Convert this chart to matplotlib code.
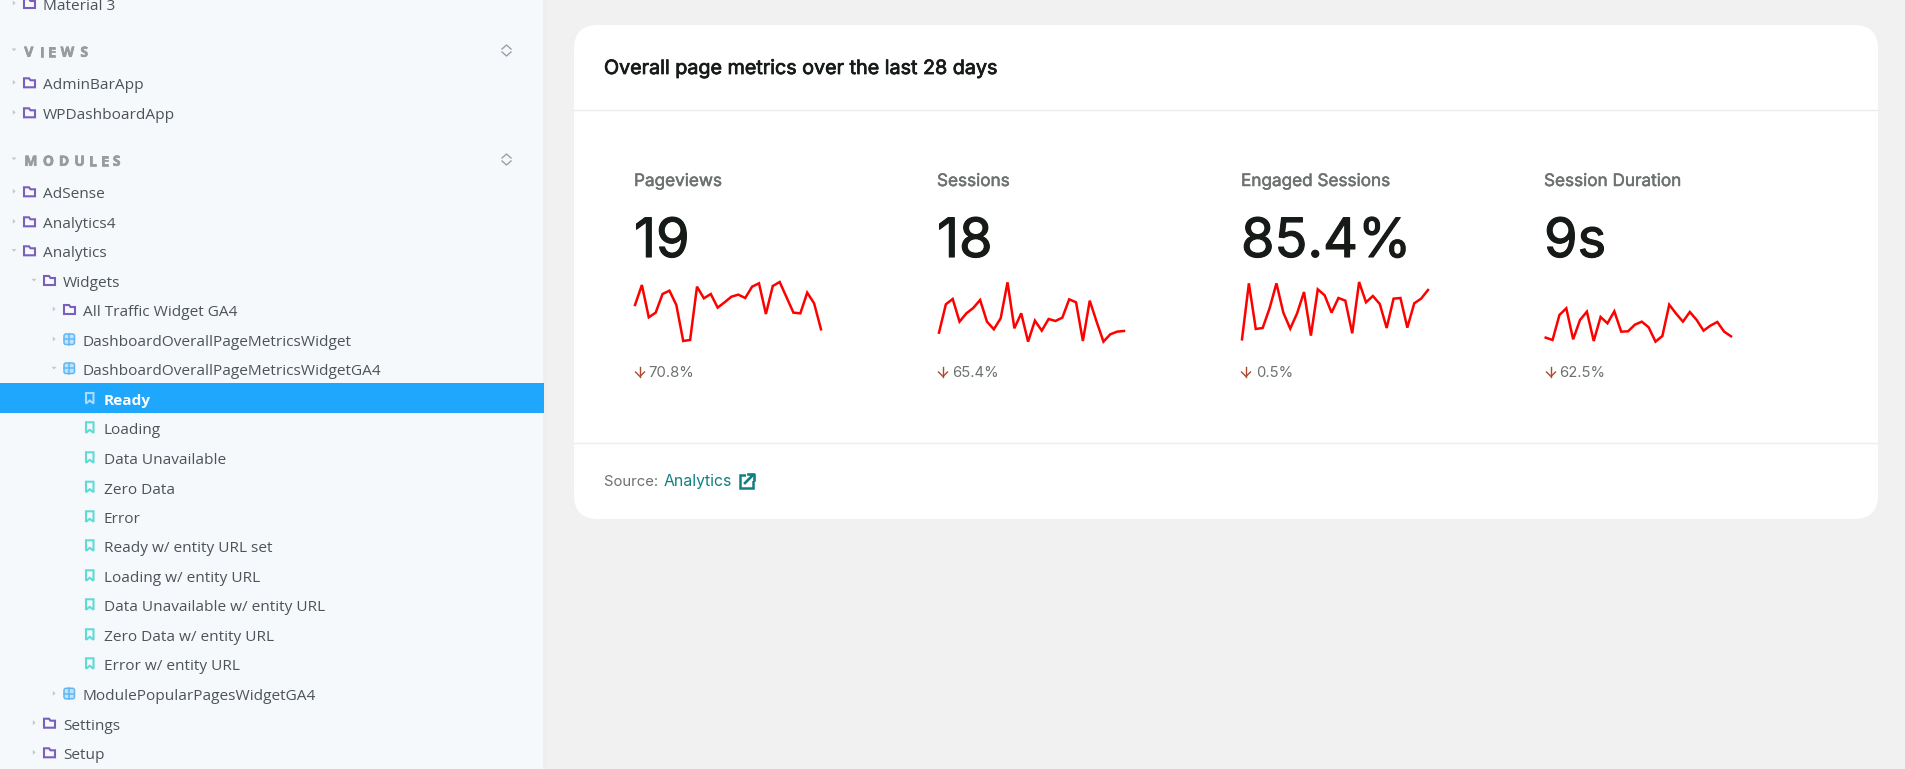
import matplotlib
matplotlib.use("Agg")
import matplotlib.pyplot as plt
import matplotlib.patheffects as pe
from matplotlib.patches import Rectangle, FancyBboxPatch, Polygon

W, H = 1906, 769

# ---------- data ----------
days = list(range(1, 29))
metric_names = ["Pageviews", "Sessions", "Engaged Sessions", "Session Duration"]
metric_values = ["19", "18", "85.4%", "9s"]
metric_changes = ["70.8%", "65.4%", "0.5%", "62.5%"]

pageviews = [135, 195, 98, 112, 168, 178, 135, 27, 30, 190, 155, 168, 127, 143, 160, 166, 156, 190, 200, 108, 192, 204, 158, 112, 110, 172, 140, 62]
sessions = [52, 137, 153, 85, 110, 126, 150, 85, 62, 95, 203, 65, 110, 25, 88, 58, 93, 87, 97, 152, 143, 27, 148, 85, 25, 47, 55, 57]
engaged = [32, 200, 63, 66, 125, 200, 112, 64, 110, 174, 43, 182, 164, 112, 156, 148, 50, 204, 143, 162, 138, 66, 154, 156, 67, 140, 154, 180]
duration = [37, 30, 105, 125, 32, 90, 115, 27, 99, 80, 116, 55, 56, 76, 85, 68, 25, 42, 136, 109, 85, 114, 90, 58, 73, 84, 55, 41]
series = [pageviews, sessions, engaged, duration]

card_title = "Overall page metrics over the last 28 days"
source_label = "Source: "
source_link = "Analytics"

# sidebar rows: label, kind, level, baseline-y, expanded
sidebar_rows = [
    ("Material 3", "folder", 0, 10, False),
    ("AdminBarApp", "folder", 0, 89.3, False),
    ("WPDashboardApp", "folder", 0, 119.3, False),
    ("AdSense", "folder", 0, 198.3, False),
    ("Analytics4", "folder", 0, 228.3, False),
    ("Analytics", "folder", 0, 257.3, True),
    ("Widgets", "folder", 1, 287, True),
    ("All Traffic Widget GA4", "folder", 2, 316, False),
    ("DashboardOverallPageMetricsWidget", "comp", 2, 346, False),
    ("DashboardOverallPageMetricsWidgetGA4", "comp", 2, 375, True),
    ("Ready", "story", 3, 405, None),
    ("Loading", "story", 3, 434.3, None),
    ("Data Unavailable", "story", 3, 464.3, None),
    ("Zero Data", "story", 3, 493.7, None),
    ("Error", "story", 3, 523.3, None),
    ("Ready w/ entity URL set", "story", 3, 552.3, None),
    ("Loading w/ entity URL", "story", 3, 582.3, None),
    ("Data Unavailable w/ entity URL", "story", 3, 611.3, None),
    ("Zero Data w/ entity URL", "story", 3, 641.3, None),
    ("Error w/ entity URL", "story", 3, 670.3, None),
    ("ModulePopularPagesWidgetGA4", "comp", 2, 700.3, False),
    ("Settings", "folder", 1, 729.7, False),
    ("Setup", "folder", 1, 759.3, False),
]
section_letters = [
    ("VIEWS", 56.7, [24.3, 39.5, 48, 60.7, 80.4]),
    ("MODULES", 165.7, [24.3, 42.9, 58.9, 74.3, 88.6, 101, 112.8]),
]

# ---------- layout ----------
fig = plt.figure(figsize=(W / 100, H / 100), dpi=100, facecolor="#f1f1f1")
ax = fig.add_axes([0, 0, 1, 1])
ax.set_xlim(0, W)
ax.set_ylim(H, 0)
ax.axis("off")

SIDE_FONT = "Open Sans"
CARD_FONT = "Inter"
TXT = "#4d5358"

ax.add_patch(Rectangle((0, 0), 543.5, H, fc="#f6f9fc", ec="none", zorder=1))
ax.add_patch(Rectangle((543.5, 0), 3, H, fc="#eeeeee", ec="none", zorder=1))
ax.add_patch(Rectangle((0, 383), 544, 30, fc="#1ea7fd", ec="none", zorder=2))

text_x = [43, 63, 83, 104]
icon_x = [24, 44, 64, 86]
arrow_x = [14, 34, 54]


def folder(x, base, color="#7a5fbd"):
    y0 = base - 11
    pts = [(x, y0), (x + 5, y0), (x + 6.5, y0 + 2), (x + 11, y0 + 2), (x + 11, y0 + 9), (x, y0 + 9)]
    ax.add_patch(Polygon(pts, closed=True, fc="none", ec=color, lw=1.5, zorder=3))


def comp(x, base, color="#62b7f2"):
    y0 = base - 12
    ax.add_patch(FancyBboxPatch((x, y0), 10.5, 10.5, boxstyle="round,pad=0,rounding_size=2",
                                fc="#bfe3fb", ec=color, lw=1.1, zorder=3))
    ax.plot([x + 5.25, x + 5.25], [y0, y0 + 10.5], color=color, lw=1.1, zorder=4)
    ax.plot([x, x + 10.5], [y0 + 5.25, y0 + 5.25], color=color, lw=1.1, zorder=4)


def bookmark(x, base, color="#5fdbd6"):
    y0 = base - 12
    pts = [(x, y0), (x + 7.5, y0), (x + 7.5, y0 + 10.5), (x + 3.75, y0 + 7.5), (x, y0 + 10.5)]
    ax.add_patch(Polygon(pts, closed=True, fc="none", ec=color, lw=1.5, zorder=3))


def arrow(x, base, expanded):
    cy = base - 7
    c = "#c4c8cc"
    if expanded:
        pts = [(x - 2.5, cy - 1.2), (x + 2.5, cy - 1.2), (x, cy + 1.5)]
    else:
        pts = [(x - 1.2, cy - 2.5), (x + 1.6, cy), (x - 1.2, cy + 2.5)]
    ax.add_patch(Polygon(pts, closed=True, fc=c, ec="none", zorder=3))


for label, kind, level, base, expanded in sidebar_rows:
    selected = label == "Ready"
    ax.text(text_x[level], base, label, family=SIDE_FONT, fontsize=11.1, va="baseline",
            color="white" if selected else TXT, weight="bold" if selected else "normal", zorder=5)
    if kind == "folder":
        folder(icon_x[level], base)
    elif kind == "comp":
        comp(icon_x[level], base)
    else:
        bookmark(icon_x[level], base, "#a8dcfe" if selected else "#5fdbd6")
    if expanded is not None:
        arrow(arrow_x[level], base, expanded)

for word, base, xs in section_letters:
    for ch, x in zip(word, xs):
        ax.text(x, base, ch, family=SIDE_FONT, fontsize=10, weight="bold", va="baseline",
                color="#999b9e", zorder=5,
                path_effects=[pe.withStroke(linewidth=0.5, foreground="#999b9e")])
    arrow(14, base, True)
    ax.plot([502, 506.5, 511], [base - 7.7, base - 11.7, base - 7.7], color="#9aa0a6", lw=1.0, zorder=4)
    ax.plot([502, 506.5, 511], [base - 4.7, base - 0.7, base - 4.7], color="#9aa0a6", lw=1.0, zorder=4)

# card
ax.add_patch(FancyBboxPatch((574, 25), 1304, 494, boxstyle="round,pad=0,rounding_size=24",
                            fc="white", ec="none", zorder=2))
ax.plot([574, 1878], [110, 110], color="#ebeef0", lw=1.0, zorder=3)
ax.plot([574, 1878], [443, 443], color="#ebeef0", lw=1.0, zorder=3)
ax.text(604, 74, card_title, family=CARD_FONT, fontsize=14.2, color="#161b18",
        va="baseline", zorder=5, path_effects=[pe.withStroke(linewidth=0.55, foreground="#161b18")])

label_x = [634, 937, 1241, 1544]
value_x = [634, 937, 1241, 1544]
change_arrow_x = [635, 938, 1241, 1546]
change_x = [648, 952, 1256, 1559]
spark_x = [(635, 821), (939, 1124), (1242, 1428), (1545.7, 1731)]
spark_top, spark_bottom = 280, 343.3

for i in range(4):
    ax.text(label_x[i], 186, metric_names[i], family=CARD_FONT, fontsize=12.35, color="#6c726e",
            va="baseline", zorder=5, path_effects=[pe.withStroke(linewidth=0.35, foreground="#6c726e")])
    ax.text(value_x[i], 257, metric_values[i], family=CARD_FONT, fontsize=39, color="#161b18",
            va="baseline", zorder=5, path_effects=[pe.withStroke(linewidth=0.8, foreground="#161b18")])
    ax.text(change_x[i], 377, metric_changes[i], family=CARD_FONT, fontsize=10.7, color="#6c726e",
            va="baseline", zorder=5)
    ax0 = change_arrow_x[i]
    ax.plot([ax0 + 5, ax0 + 5], [367, 376.5], color="#ac4b2e", lw=1.0, zorder=5)
    ax.plot([ax0 + 0.5, ax0 + 5, ax0 + 9.5], [372, 376.5, 372], color="#ac4b2e", lw=1.0, zorder=5)
    x0, x1 = spark_x[i]
    sp = fig.add_axes([x0 / W, 1 - spark_bottom / H, (x1 - x0) / W, (spark_bottom - spark_top) / H])
    sp.patch.set_alpha(0)
    sp.axis("off")
    sp.set_xlim(days[0], days[-1])
    sp.set_ylim(20, 210)
    sp.plot(days, series[i], color="#ff0000", lw=1.8, clip_on=False, solid_joinstyle="miter")

# source row
ax.text(604, 486, source_label, family=CARD_FONT, fontsize=10.7, color="#6c726e", va="baseline", zorder=5)
ax.text(663.5, 486, source_link, family=CARD_FONT, fontsize=11.4, color="#108080", va="baseline", zorder=5)
ic = "#108080"
ax.add_patch(Rectangle((740, 474.5), 13.5, 13.5, fc="none", ec=ic, lw=1.8, zorder=5))
ax.add_patch(Rectangle((746, 472.5), 10, 8, fc="white", ec="none", zorder=6))
ax.plot([745, 753], [483, 475], color=ic, lw=1.9, zorder=7)
ax.plot([748, 754, 754], [474, 474, 480], color=ic, lw=1.9, zorder=7)

fig.savefig("out.png", dpi=100, facecolor=fig.get_facecolor())
